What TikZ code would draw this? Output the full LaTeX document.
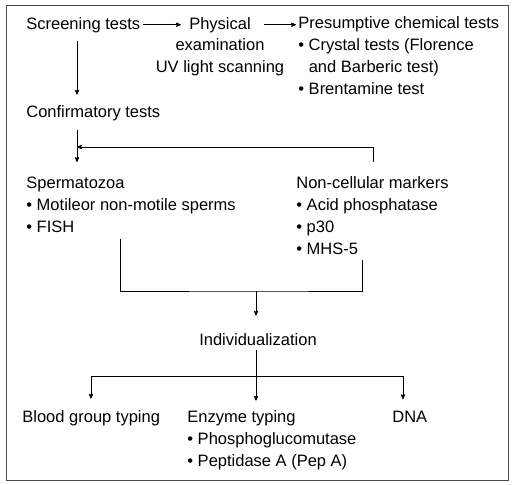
\documentclass[tikz,border=0pt]{standalone}
\usepackage{fontspec}
\setmainfont{Liberation Sans}
\usetikzlibrary{arrows}
\usetikzlibrary{positioning}

\begin{document}
\begin{tikzpicture}[x=1pt,y=-1pt,>=stealth',
        txt/.style={anchor=base west,inner sep=2pt,align=left,
            font=\fontsize{16.5}{22}\selectfont},
        ctr/.style={anchor=base,inner sep=2pt,align=center,
            font=\fontsize{16.5}{22}\selectfont},
        every path/.style={line width=0.8pt}]
        \useasboundingbox (0,0) rectangle (512,485);
        \draw [black!70] (6,5) rectangle (508,480);
        % multi-line nodes sit on the baseline of their last line
        \node [txt] (screen) at (24,29) {Screening tests};
        \node [ctr] (phys) at (220,29) {Physical};
        \node [ctr] (physb) at (220,72) {examination\\UV light scanning};
        \node [txt] (presum) at (296,94) {Presumptive chemical tests\\
            • Crystal tests (Florence\\\phantom{• }and Barberic test)\\• Brentamine test};
        \node [txt] (confirm) at (24,117) {Confirmatory tests};
        \node [txt] (sperm) at (24,232) {Spermatozoa\\• Motileor non-motile sperms\\• FISH};
        \node [txt] (noncell) at (294,254) {Non-cellular markers\\• Acid phosphatase\\• p30\\• MHS-5};
        \node [ctr] (indiv) at (258,345) {Individualization};
        \node [txt] (blood) at (20,422) {Blood group typing};
        \node [txt] (enzyme) at (185,466) {Enzyme typing\\• Phosphoglucomutase\\• Peptidase A (Pep A)};
        \node [txt] (dna) at (390,422) {DNA};
        \coordinate (cx) at (77,0);
        \coordinate (fb) at (373,147);
        \coordinate (lx) at (120,0);
        \coordinate (rx) at (362,0);
        \coordinate (join) at (256,291);
        \coordinate (split) at (256,376);
        \coordinate (bx) at (91,0);
        \coordinate (dx) at (403,0);
        \path[->]
            (screen.east) edge [shorten >=6pt] (screen.east -| phys.west)
            (phys.east) edge [shorten <=11pt] (phys.east -| presum.west)
            (screen.south -| cx) edge [shorten <=6pt,shorten >=8pt] (confirm.north -| cx)
            (confirm.south -| cx) edge [shorten <=7pt,shorten >=12pt] (sperm.north -| cx);
        \draw[->,shorten <=12pt] (noncell.north -| fb) |- (fb -| cx);
        \draw[shorten <=4pt,shorten >=3pt] (sperm.south -| lx) |- (join) -| (noncell.south -| rx);
        \draw[->,shorten >=15pt] (join) -- (join |- indiv.north);
        \draw[shorten <=2pt] (indiv.south -| split) -- (split);
        \draw[->,shorten >=9pt] (split) -| (blood.north -| bx);
        \draw[->,shorten >=9pt] (split) -| (dna.north -| dx);
        \draw[->,shorten >=7pt] (split) -- (enzyme.north -| split);
\end{tikzpicture}
\end{document}
